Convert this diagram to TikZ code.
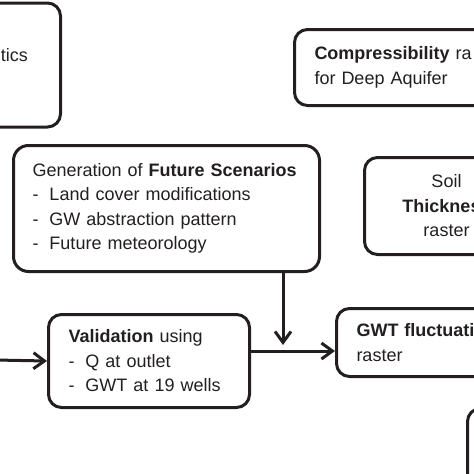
\documentclass[tikz,border=0pt]{standalone}
\usepackage{fontspec}
\setmainfont{Liberation Sans}
\usetikzlibrary{arrows.meta}
\definecolor{ink}{RGB}{35,31,32}
\newcommand{\itm}{\makebox[17pt][l]{-}}

\begin{document}
\begin{tikzpicture}[x=1pt,y=-1pt,
    font=\fontsize{18}{24.5}\selectfont,
    box/.style={draw=ink, line width=3pt, rounded corners=13pt, text=ink, align=left, inner xsep=20pt, inner ysep=0pt},
    arr/.style={draw=ink, line width=3pt, -{Straight Barb[length=11pt,width=16pt]}}]
    \useasboundingbox (0,0) rectangle (474,474);
    \clip (0,0) rectangle (474,474);
    \node[box, anchor=north east, minimum width=220pt, minimum height=124pt] (chars) at (62,1.5) {};
    \node[anchor=base east, text=ink, inner sep=0pt] (charstxt) at (28,61) {tics};
    \node[box, anchor=north west, text width=260pt, minimum height=76pt] (compr) at (293,28) {\textbf{Compressibility} ra\\for Deep Aquifer};
    \node[box, anchor=north west, text width=124pt, minimum height=97pt, align=center] (soil) at (363,156) {Soil\\\textbf{Thickness}\\raster};
    \node[box, anchor=north west, text width=268pt, minimum height=126pt, rounded corners=15pt, inner xsep=19pt] (gen) at (12,144) {Generation of \textbf{Future Scenarios}\\\itm Land cover modifications\\\itm GW abstraction pattern\\\itm Future meteorology};
    \node[box, anchor=north west, text width=161pt, minimum height=93pt] (valid) at (47,313) {\textbf{Validation} using\\\itm Q at outlet\\\itm GWT at 19 wells};
    \node[box, anchor=north west, text width=200pt, minimum height=68pt] (gwt) at (335,307) {\textbf{GWT fluctuati}\\raster};
    \node[box, anchor=north west, minimum width=100pt, minimum height=100pt] (out) at (466,407) {};
    \coordinate (src) at (-5,360);
    \coordinate (join) at (283,351);
    \draw[arr] (src) -- (valid.west);
    \draw[arr] (valid.east |- join) -- (gwt.west |- join);
    \draw[arr, shorten >=6pt] (gen.south -| join) -- (join);
\end{tikzpicture}
\end{document}
